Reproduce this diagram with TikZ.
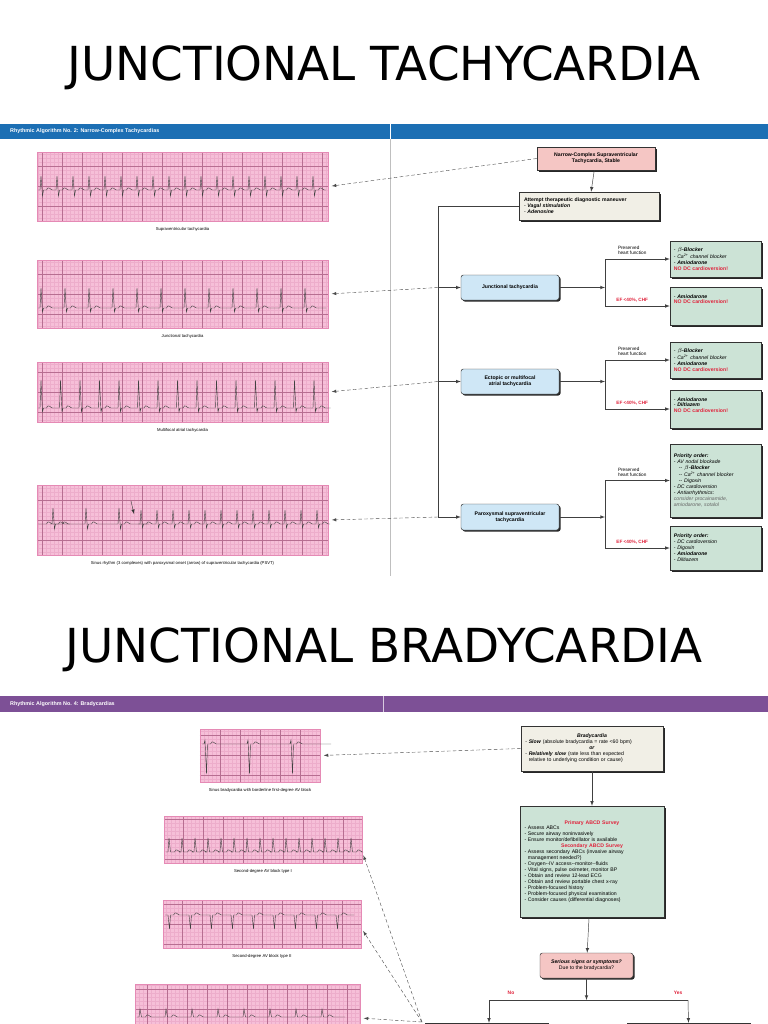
\documentclass[tikz,border=0pt]{standalone}
\usepackage{fontspec}
\setmainfont{DejaVu Sans}
\newfontfamily\chartfont{Liberation Sans}
\usepackage{xcolor}
\usepackage{tikz}
\usetikzlibrary{positioning}
\usetikzlibrary{arrows}
\usetikzlibrary{shadows}
\definecolor{barblue}{HTML}{1C6FB4}
\definecolor{barpurple}{HTML}{7D5096}
\definecolor{stripfill}{HTML}{F6BFD8}
\definecolor{stripline}{HTML}{E58AB5}
\definecolor{boxpink}{HTML}{F5C6C4}
\definecolor{boxbeige}{HTML}{F1EFE6}
\definecolor{boxblue}{HTML}{CFE7F6}
\definecolor{boxgreen}{HTML}{CCE3D6}
\definecolor{alertred}{HTML}{E0213A}
\tikzset{
	box/.style={
		draw=black!80,
		thin,
		font=\chartfont\fontsize{4.4}{5.1}\selectfont,
		drop shadow={shadow xshift=1.3pt, shadow yshift=-1.3pt, fill=black!85, opacity=1},
		inner sep=2pt},
	rounded box/.style={box, rounded corners=2pt},
	strip/.style={
		fill=stripfill,
		draw=stripline,
		path picture={
			\draw[stripline!70, line width=0.15pt, step=0.12cm] (path picture bounding box.south west) grid (path picture bounding box.north east);
			\draw[stripline!80!black, line width=0.35pt, step=0.6cm] (path picture bounding box.south west) grid (path picture bounding box.north east);}},
	caption/.style={font=\chartfont\fontsize{3.6}{4}\selectfont, below=2pt},
	trace/.style={black!75, line width=0.35pt},
	flow/.style={draw=black!75, line width=0.4pt},
	arrowflow/.style={flow, -latex},
	dashlink/.style={draw=black!70, densely dashed, line width=0.35pt, -latex, shorten >=3pt},
	branch label/.style={font=\chartfont\fontsize{4}{4.5}\selectfont, align=left, above},
	title/.style={font=\fontsize{40}{44}\selectfont}
}
% one heartbeat pattern repeated: x0, baseline, period, count, R height, S depth
\newcommand{\ecgbeats}[6]{%
	\foreach \k in {0,...,#4}{
		\draw[trace] ({#1+\k*#3},#2) -- ++(2,0) -- ++(1,-#5) -- ++(1.5,{#5+#6}) -- ++(1,-#6) -- ++(3,0)
			.. controls +(2,-5) and +(-2,0) .. ++(6,0) -- ++({#3-14.5},0);}}
\newcommand{\caion}{Ca\textsuperscript{2+}}

\begin{document}
\begin{tikzpicture}[x=0.03cm, y=-0.03cm]
	\useasboundingbox[fill=white] (0,0) rectangle (768,1024);

	% ---------- tachycardia page
	\node[title] (ttitle) at (384,68) {JUNCTIONAL TACHYCARDIA};
	\fill[barblue] (0,124) rectangle (768,139);
	\draw[white, line width=0.6pt] (390,124) -- (390,139);
	\draw[black!25, line width=0.4pt] (390,139) -- (390,576);
	\node[anchor=west, text=white, font=\chartfont\bfseries\fontsize{4.6}{5}\selectfont] (thead) at (6,131.5) {Rhythmic Algorithm No. 2: Narrow-Complex Tachycardias};

	\node[strip, minimum width=8.73cm, minimum height=2.07cm] (s1) at (182.5,186.5) {};
	\node[strip, minimum width=8.73cm, minimum height=2.04cm] (s2) at (182.5,294) {};
	\node[strip, minimum width=8.73cm, minimum height=1.80cm] (s3) at (182.5,392) {};
	\node[strip, minimum width=8.73cm, minimum height=2.10cm] (s4) at (182.5,520) {};
	\node[caption] at (s1.south) {Supraventricular tachycardia};
	\node[caption] at (s2.south) {Junctional tachycardia};
	\node[caption] at (s3.south) {Multifocal atrial tachycardia};
	\node[caption] at (s4.south) {Sinus rhythm (3 complexes) with paroxysmal onset (arrow) of supraventricular tachycardia (PSVT)};
	\ecgbeats{38}{190}{16}{17}{14}{6}
	\ecgbeats{38}{308}{24}{11}{20}{4}
	\ecgbeats{38}{408}{19.5}{14}{28}{4}
	\ecgbeats{38}{524}{16}{1}{0}{0}
	\ecgbeats{50}{524}{33}{2}{16}{5}
	\ecgbeats{138}{524}{16}{11}{14}{4}
	\draw[black!80, line width=0.35pt, -latex] (131,501) -- (134,514);

	\node[box, fill=boxpink, minimum width=3.54cm, minimum height=0.69cm, align=center, font=\chartfont\bfseries\fontsize{4.4}{5.1}\selectfont] (nct) at (596,158.5) {Narrow-Complex Supraventricular\\Tachycardia, Stable};
	\node[box, fill=boxbeige, minimum width=4.2cm, minimum height=0.84cm, text width=3.9cm, align=left] (atm) at (589,206) {\textbf{Attempt therapeutic diagnostic maneuver}\\ - \textbf{\textit{Vagal stimulation}}\\ - \textbf{\textit{Adenosine}}};
	\node[rounded box, fill=boxblue, minimum width=2.94cm, minimum height=0.75cm, align=center] (jt) at (510,287.5) {\textbf{Junctional tachycardia}};
	\node[rounded box, fill=boxblue, minimum width=2.94cm, minimum height=0.75cm, align=center] (ect) at (510,381.5) {\textbf{Ectopic or multifocal}\\\textbf{atrial tachycardia}};
	\node[rounded box, fill=boxblue, minimum width=2.94cm, minimum height=0.78cm, align=center] (psvt) at (510,517) {\textbf{Paroxysmal supraventricular}\\\textbf{tachycardia}};

	\node[box, fill=boxgreen, minimum width=2.73cm, minimum height=1.08cm, text width=2.5cm, align=left] (g1) at (715.5,259) {- \textbf{\textit{$\beta$-Blocker}}\\ - \textit{\caion{} channel blocker}\\ - \textbf{\textit{Amiodarone}}\\ \textcolor{alertred}{\textbf{NO DC cardioversion!}}};
	\node[box, fill=boxgreen, minimum width=2.73cm, minimum height=1.14cm, text width=2.5cm, align=left] (g2) at (715.5,306) {- \textbf{\textit{Amiodarone}}\\ \textcolor{alertred}{\textbf{NO DC cardioversion!}}\\ \strut\\ \strut};
	\node[box, fill=boxgreen, minimum width=2.73cm, minimum height=1.08cm, text width=2.5cm, align=left] (g3) at (715.5,360) {- \textbf{\textit{$\beta$-Blocker}}\\ - \textit{\caion{} channel blocker}\\ - \textbf{\textit{Amiodarone}}\\ \textcolor{alertred}{\textbf{NO DC cardioversion!}}};
	\node[box, fill=boxgreen, minimum width=2.73cm, minimum height=1.14cm, text width=2.5cm, align=left] (g4) at (715.5,409) {- \textbf{\textit{Amiodarone}}\\ - \textbf{\textit{Diltiazem}}\\ \textcolor{alertred}{\textbf{NO DC cardioversion!}}\\ \strut};
	\node[box, fill=boxgreen, minimum width=2.73cm, minimum height=2.19cm, text width=2.5cm, align=left] (g5) at (715.5,480.5) {\textbf{\textit{Priority order:}}\\ - \textit{AV nodal blockade}\\ \quad -- \textbf{\textit{$\beta$-Blocker}}\\ \quad -- \textit{\caion{} channel blocker}\\ \quad -- \textit{Digoxin}\\ - \textit{DC cardioversion}\\ - \textit{Antiarrhythmics:}\\ \textcolor{black!60}{\textit{consider procainamide,}}\\ \textcolor{black!60}{\textit{amiodarone, sotalol}}};
	\node[box, fill=boxgreen, minimum width=2.73cm, minimum height=1.32cm, text width=2.5cm, align=left] (g6) at (715.5,548) {\textbf{\textit{Priority order:}}\\ - \textit{DC cardioversion}\\ - \textit{Digoxin}\\ - \textbf{\textit{Amiodarone}}\\ - \textit{Diltiazem}};

	\draw[arrowflow] (nct) -- (atm);
	\coordinate (trunk) at (438,517);
	\draw[flow] (atm.west) -| (trunk);
	\foreach \n/\s in {jt/s2, ect/s3, psvt/s4}{
		\draw[arrowflow] (trunk |- \n.west) -- (\n.west);
		\draw[dashlink] (trunk |- \n.west) -- (\s.east);}
	\draw[dashlink] (nct.west) -- (s1.east);

	\foreach \n/\up/\down in {jt/g1/g2, ect/g3/g4, psvt/g5/g6}{
		\coordinate (\n split) at (605,0 |- \n.east);
		\draw[arrowflow] (\n.east) -- (\n split);
		\draw[flow] (\n split |- \up.west) -- (\n split |- \down.west);
		\draw[arrowflow] (\n split |- \up.west) -- node[branch label, pos=0.42] {Preserved\\heart function} (\up.west);
		\draw[arrowflow] (\n split |- \down.west) -- node[branch label, pos=0.42, text=alertred] {\textbf{EF <40\%, CHF}} (\down.west);}

	% ---------- bradycardia page
	\node[title] (btitle) at (384,650) {JUNCTIONAL BRADYCARDIA};
	\fill[barpurple] (0,696) rectangle (768,712);
	\draw[white!70!barpurple, line width=0.5pt] (383,696) -- (383,712);
	\node[anchor=west, text=white, font=\chartfont\bfseries\fontsize{4.6}{5}\selectfont] (bhead) at (6,704) {Rhythmic Algorithm No. 4: Bradycardias};

	\node[strip, minimum width=3.6cm, minimum height=1.59cm] (b1) at (260,755.5) {};
	\node[strip, minimum width=5.94cm, minimum height=1.41cm] (b2) at (263,839.5) {};
	\node[strip, minimum width=5.94cm, minimum height=1.44cm] (b3) at (262,924) {};
	\node[strip, minimum width=6.75cm, minimum height=1.5cm] (b4) at (247.5,1009) {};
	\node[caption] at (b1.south) {Sinus bradycardia with borderline first-degree AV block};
	\node[caption] at (b2.south) {Second-degree AV block type I};
	\node[caption] at (b3.south) {Second-degree AV block type II};
	\ecgbeats{202}{744}{43}{2}{4}{30}
	\ecgbeats{166}{852}{13}{14}{14}{0}
	\ecgbeats{165}{915}{21}{8}{0}{14}
	\ecgbeats{137}{1017}{26}{7}{8}{0}

	\node[box, fill=boxbeige, minimum width=4.26cm, minimum height=1.35cm, text width=4cm, align=left] (brady) at (592,748.5) {{\centering\textbf{\textit{Bradycardia}}\par} - \textbf{\textit{Slow}} (absolute bradycardia = rate <60 bpm)\par {\centering\textbf{\textit{or}}\par} - \textbf{\textit{Relatively slow}} (rate less than expected\par \ \ relative to underlying condition or cause)};
	\node[box, fill=boxgreen, minimum width=4.32cm, minimum height=3.33cm, text width=4.05cm, align=left] (abcd) at (592,861.5) {{\centering\textcolor{alertred}{\textbf{Primary ABCD Survey}}\par} - Assess ABCs\par - Secure airway noninvasively\par - Ensure monitor/defibrillator is available\par {\centering\textcolor{alertred}{\textbf{Secondary ABCD Survey}}\par} - Assess secondary ABCs (invasive airway\par \ \ management needed?)\par - Oxygen--IV access--monitor--fluids\par - Vital signs, pulse oximeter, monitor BP\par - Obtain and review 12-lead ECG\par - Obtain and review portable chest x-ray\par - Problem-focused history\par - Problem-focused physical examination\par - Consider causes (differential diagnoses)};
	\node[rounded box, fill=boxpink, minimum width=2.79cm, minimum height=0.75cm, align=center] (serious) at (586.5,965.5) {\textbf{\textit{Serious signs or symptoms?}}\\ Due to the bradycardia?};
	\node[box, fill=boxpink, minimum width=3.69cm, minimum height=0.6cm] (nobox) at (486.5,1033) {};
	\node[box, fill=boxblue, minimum width=3.69cm, minimum height=0.6cm] (yesbox) at (688.5,1033) {};

	\draw[arrowflow] (brady) -- (abcd);
	\draw[arrowflow] (abcd) -- (serious);
	\coordinate (fork) at (586.5,1000);
	\draw[arrowflow] (serious.south) -- (fork);
	\draw[flow] (489,1000) -- (688,1000);
	\draw[arrowflow] (489,1000) -- (nobox.north -| 489,0);
	\draw[arrowflow] (688,1000) -- (yesbox.north);
	\node[above, text=alertred, font=\chartfont\bfseries\fontsize{4.2}{4.5}\selectfont] (nolbl) at (511,999) {No};
	\node[above, text=alertred, font=\chartfont\bfseries\fontsize{4.2}{4.5}\selectfont] (yeslbl) at (678,999) {Yes};

	\draw[dashlink] (brady.west) -- (b1.east);
	\coordinate (nofoot) at (422,1022);
	\foreach \s/\yy in {b2/852, b3/928, b4/1018}
		\draw[dashlink] (nofoot) -- (\s.east |- 0,\yy);
\end{tikzpicture}
\end{document}
